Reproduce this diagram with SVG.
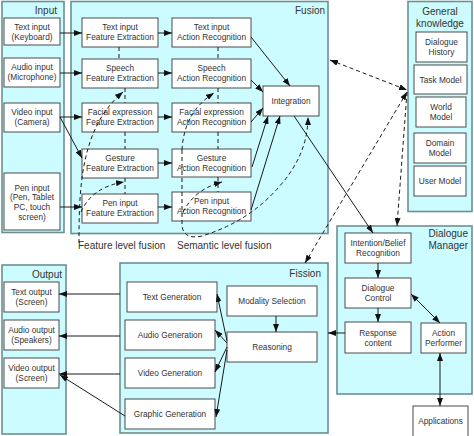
<svg xmlns="http://www.w3.org/2000/svg" width="474" height="436" viewBox="0 0 474 436">
<defs>
<style>
.panel{fill:#ccfcff;stroke:#6b9092;stroke-width:1.6}
.box{fill:#fff;stroke:#4a4a4a;stroke-width:1}
.t{font-family:"Liberation Sans",Arial,sans-serif;font-size:8.3px;fill:#333;text-anchor:middle}
.pl{font-family:"Liberation Sans",Arial,sans-serif;font-size:10px;fill:#333}
.ln{fill:none;stroke:#1a1a1a;stroke-width:1}
.da{fill:none;stroke:#1a1a1a;stroke-width:1;stroke-dasharray:4 3}
</style>
<marker id="ah" viewBox="0 0 8 6" refX="8" refY="3" markerWidth="8" markerHeight="6" markerUnits="userSpaceOnUse" orient="auto-start-reverse"><path d="M0,0 L8,3 L0,6 z" fill="#111"/></marker>
</defs>
<rect width="474" height="436" fill="#fff"/>

<g id="input-panel">
<rect class="panel" x="2" y="1.5" width="62" height="231"/>
<text class="pl" x="57" y="14" text-anchor="end">Input</text>
</g>
<g id="fusion-panel">
<rect class="panel" x="71" y="1.5" width="257" height="232"/>
<text class="pl" x="325" y="14" text-anchor="end">Fusion</text>
</g>
<g id="gk-panel">
<rect class="panel" x="408" y="1.5" width="64" height="210"/>
<text class="pl" x="440" y="15" text-anchor="middle">General</text>
<text class="pl" x="440" y="27" text-anchor="middle">knowledge</text>
</g>
<g id="dm-panel">
<rect class="panel" x="337" y="226" width="135" height="168"/>
<text class="pl" x="468" y="237" text-anchor="end">Dialogue</text>
<text class="pl" x="468" y="249" text-anchor="end">Manager</text>
</g>
<g id="output-panel">
<rect class="panel" x="2" y="265" width="64" height="169"/>
<text class="pl" x="62" y="278" text-anchor="end">Output</text>
</g>
<g id="fission-panel">
<rect class="panel" x="120" y="263" width="208" height="170"/>
<text class="pl" x="321" y="277" text-anchor="end">Fission</text>
</g>

<g id="in-text"><rect class="box" x="4" y="18" width="56" height="27"/><text class="t" x="32" y="30">Text input</text><text class="t" x="32" y="40">(Keyboard)</text></g>
<g id="in-audio"><rect class="box" x="4" y="58" width="56" height="29"/><text class="t" x="32" y="70">Audio input</text><text class="t" x="32" y="80">(Microphone)</text></g>
<g id="in-video"><rect class="box" x="4" y="103" width="56" height="29"/><text class="t" x="32" y="115">Video input</text><text class="t" x="32" y="125">(Camera)</text></g>
<g id="in-pen"><rect class="box" x="4" y="173" width="56" height="57"/><text class="t" x="32" y="190.5">Pen input</text><text class="t" x="32" y="200.2">(Pen, Tablet</text><text class="t" x="32" y="209.8">PC, touch</text><text class="t" x="32" y="219.5">screen)</text></g>

<g id="fe-text"><rect class="box" x="82" y="18" width="76" height="29"/><text class="t" x="120" y="30">Text input</text><text class="t" x="120" y="40">Feature Extraction</text></g>
<g id="fe-speech"><rect class="box" x="82" y="59" width="76" height="29"/><text class="t" x="120" y="71">Speech</text><text class="t" x="120" y="81">Feature Extraction</text></g>
<g id="fe-facial"><rect class="box" x="82" y="103" width="76" height="29"/><text class="t" x="120" y="115">Facial expression</text><text class="t" x="120" y="125">Feature Extraction</text></g>
<g id="fe-gesture"><rect class="box" x="82" y="149" width="76" height="29"/><text class="t" x="120" y="161">Gesture</text><text class="t" x="120" y="171">Feature Extraction</text></g>
<g id="fe-pen"><rect class="box" x="82" y="194" width="76" height="29"/><text class="t" x="120" y="206">Pen input</text><text class="t" x="120" y="216">Feature Extraction</text></g>

<g id="ar-text"><rect class="box" x="172" y="18" width="79" height="29"/><text class="t" x="211.5" y="30">Text input</text><text class="t" x="211.5" y="40">Action Recognition</text></g>
<g id="ar-speech"><rect class="box" x="172" y="59" width="79" height="29"/><text class="t" x="211.5" y="71">Speech</text><text class="t" x="211.5" y="81">Action Recognition</text></g>
<g id="ar-facial"><rect class="box" x="172" y="103" width="79" height="29"/><text class="t" x="211.5" y="115">Facial expression</text><text class="t" x="211.5" y="125">Action Recognition</text></g>
<g id="ar-gesture"><rect class="box" x="172" y="149" width="79" height="28"/><text class="t" x="211.5" y="160.5">Gesture</text><text class="t" x="211.5" y="170.5">Action Recognition</text></g>
<g id="ar-pen"><rect class="box" x="172" y="192" width="79" height="29"/><text class="t" x="211.5" y="204">Pen input</text><text class="t" x="211.5" y="214">Action Recognition</text></g>

<g id="integration"><rect class="box" x="263" y="86" width="56" height="30"/><text class="t" x="291" y="104">Integration</text></g>

<g id="gk-history"><rect class="box" x="416" y="32" width="51" height="30"/><text class="t" x="441.5" y="45">Dialogue</text><text class="t" x="441.5" y="55">History</text></g>
<g id="gk-task"><rect class="box" x="414" y="65" width="53" height="29"/><text class="t" x="440.5" y="82.5">Task Model</text></g>
<g id="gk-world"><rect class="box" x="416" y="97" width="50" height="30"/><text class="t" x="441" y="110">World</text><text class="t" x="441" y="120">Model</text></g>
<g id="gk-domain"><rect class="box" x="414" y="133" width="52" height="30"/><text class="t" x="440" y="146">Domain</text><text class="t" x="440" y="156">Model</text></g>
<g id="gk-user"><rect class="box" x="414" y="166" width="52" height="30"/><text class="t" x="440" y="184">User Model</text></g>

<g id="dm-intention"><rect class="box" x="345" y="233" width="66" height="30"/><text class="t" x="378" y="246">Intention/Belief</text><text class="t" x="378" y="256">Recognition</text></g>
<g id="dm-control"><rect class="box" x="345" y="278" width="66" height="30"/><text class="t" x="378" y="291">Dialogue</text><text class="t" x="378" y="301">Control</text></g>
<g id="dm-response"><rect class="box" x="345" y="322" width="66" height="31"/><text class="t" x="378" y="335.5">Response</text><text class="t" x="378" y="345.5">content</text></g>
<g id="dm-action"><rect class="box" x="421" y="323" width="45" height="30"/><text class="t" x="443.5" y="336">Action</text><text class="t" x="443.5" y="346">Performer</text></g>
<g id="applications"><rect class="box" x="413" y="406" width="55" height="34"/><text class="t" x="440.5" y="424">Applications</text></g>

<g id="out-text"><rect class="box" x="4" y="282" width="55" height="30"/><text class="t" x="31.5" y="295">Text output</text><text class="t" x="31.5" y="305">(Screen)</text></g>
<g id="out-audio"><rect class="box" x="4" y="320" width="55" height="30"/><text class="t" x="31.5" y="333">Audio output</text><text class="t" x="31.5" y="343">(Speakers)</text></g>
<g id="out-video"><rect class="box" x="4" y="358" width="55" height="30"/><text class="t" x="31.5" y="371">Video output</text><text class="t" x="31.5" y="381">(Screen)</text></g>

<g id="gen-text"><rect class="box" x="127" y="282" width="90" height="30"/><text class="t" x="172" y="300">Text Generation</text></g>
<g id="gen-audio"><rect class="box" x="125" y="320" width="90" height="30"/><text class="t" x="170" y="338">Audio Generation</text></g>
<g id="gen-video"><rect class="box" x="125" y="358" width="90" height="30"/><text class="t" x="170" y="376">Video Generation</text></g>
<g id="gen-graphic"><rect class="box" x="125" y="399" width="90" height="30"/><text class="t" x="170" y="417">Graphic Generation</text></g>
<g id="modality"><rect class="box" x="227" y="286" width="90" height="30"/><text class="t" x="272" y="304">Modality Selection</text></g>
<g id="reasoning"><rect class="box" x="227" y="332" width="90" height="30"/><text class="t" x="272" y="350">Reasoning</text></g>

<g id="labels">
<text class="pl" x="78" y="249">Feature level fusion</text>
<text class="pl" x="177" y="249">Semantic level fusion</text>
</g>

<g id="connectors">
<line class="ln" x1="60" y1="33" x2="82" y2="33" marker-end="url(#ah)"/>
<line class="ln" x1="60" y1="73" x2="82" y2="73" marker-end="url(#ah)"/>
<line class="ln" x1="60" y1="117" x2="82" y2="117" marker-end="url(#ah)"/>
<line class="ln" x1="60" y1="117" x2="82" y2="158" marker-end="url(#ah)"/>
<line class="ln" x1="60" y1="207" x2="82" y2="207" marker-end="url(#ah)"/>
<line class="ln" x1="158" y1="33" x2="172" y2="33" marker-end="url(#ah)"/>
<line class="ln" x1="158" y1="73" x2="172" y2="73" marker-end="url(#ah)"/>
<line class="ln" x1="158" y1="117" x2="172" y2="117" marker-end="url(#ah)"/>
<line class="ln" x1="158" y1="163" x2="172" y2="163" marker-end="url(#ah)"/>
<line class="ln" x1="158" y1="207" x2="172" y2="207" marker-end="url(#ah)"/>
<line class="da" x1="119" y1="47" x2="119" y2="59"/>
<line class="da" x1="125" y1="88" x2="125" y2="103"/>
<line class="da" x1="125" y1="132" x2="125" y2="149"/>
<line class="da" x1="125" y1="178" x2="125" y2="194"/>
<line class="da" x1="218" y1="47" x2="218" y2="59"/>
<line class="da" x1="218" y1="88" x2="218" y2="103"/>
<line class="da" x1="218" y1="132" x2="218" y2="149"/>
<line class="da" x1="218" y1="177" x2="218" y2="192"/>
<line class="ln" x1="251" y1="37" x2="290" y2="86" marker-end="url(#ah)"/>
<line class="ln" x1="251" y1="80" x2="263" y2="92" marker-end="url(#ah)"/>
<line class="ln" x1="251" y1="122" x2="263" y2="108" marker-end="url(#ah)"/>
<line class="ln" x1="252" y1="167" x2="268" y2="116" marker-end="url(#ah)"/>
<line class="ln" x1="251" y1="210" x2="280" y2="116" marker-end="url(#ah)"/>
<path class="da" d="M79,243 C79,190 80,128 123,92" marker-end="url(#ah)"/>
<path class="da" d="M81,212 Q92,187 124,182" marker-end="url(#ah)"/>
<path class="da" d="M182,150 Q184,112 214,93" marker-end="url(#ah)"/>
<path class="da" d="M182,150 L182,226 Q184,240 202,236 Q248,222 278,188 Q308,155 308,117" marker-end="url(#ah)"/>
<path class="da" d="M183,212 Q195,189 222,182" marker-end="url(#ah)"/>
<line class="ln" x1="294" y1="116" x2="373" y2="233" marker-end="url(#ah)"/>
<line class="da" x1="330" y1="60" x2="407" y2="90" marker-start="url(#ah)" marker-end="url(#ah)"/>
<line class="da" x1="407" y1="92" x2="305" y2="263" marker-start="url(#ah)" marker-end="url(#ah)"/>
<line class="da" x1="407" y1="92" x2="397" y2="226" marker-end="url(#ah)"/>
<line class="ln" x1="378" y1="263" x2="378" y2="278" marker-end="url(#ah)"/>
<line class="ln" x1="378" y1="308" x2="378" y2="322" marker-end="url(#ah)"/>
<line class="ln" x1="411" y1="294" x2="440" y2="323" marker-start="url(#ah)" marker-end="url(#ah)"/>
<line class="ln" x1="440" y1="353" x2="440" y2="406" marker-start="url(#ah)" marker-end="url(#ah)"/>
<line class="ln" x1="345" y1="333" x2="328" y2="333" marker-end="url(#ah)"/>
<line class="ln" x1="276" y1="316" x2="276" y2="332" marker-end="url(#ah)"/>
<line class="ln" x1="227" y1="341" x2="217" y2="294" marker-end="url(#ah)"/>
<line class="ln" x1="227" y1="343" x2="215" y2="330" marker-end="url(#ah)"/>
<line class="ln" x1="227" y1="347" x2="215" y2="372" marker-end="url(#ah)"/>
<line class="ln" x1="227" y1="350" x2="216" y2="417" marker-end="url(#ah)"/>
<line class="ln" x1="120" y1="294" x2="59" y2="294" marker-end="url(#ah)"/>
<line class="ln" x1="120" y1="336" x2="59" y2="336" marker-end="url(#ah)"/>
<line class="ln" x1="120" y1="374" x2="59" y2="374" marker-end="url(#ah)"/>
<line class="ln" x1="125" y1="416" x2="60" y2="375" marker-end="url(#ah)"/>
</g>
</svg>
